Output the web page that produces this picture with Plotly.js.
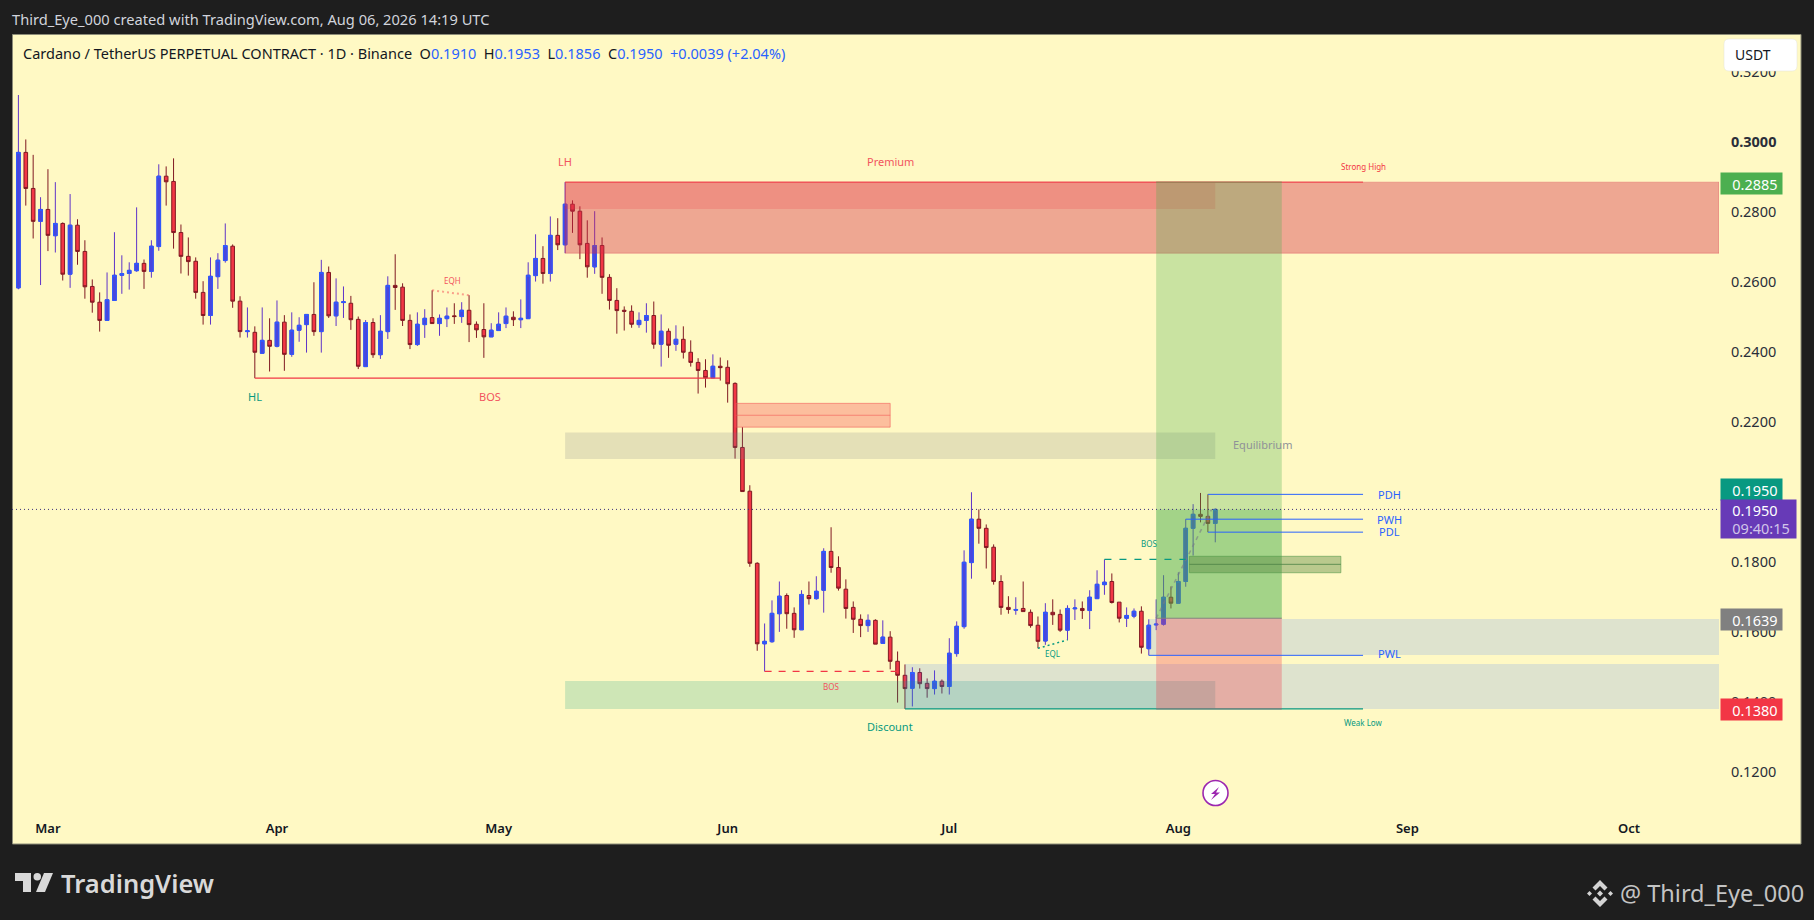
<!DOCTYPE html>
<html>
<head>
<meta charset="utf-8">
<script src="https://cdn.plot.ly/plotly-3.0.1.min.js"></script>
<style>html,body{margin:0;padding:0;background:#1e1e1e;overflow:hidden}#chart{width:1814px;height:920px}</style>
</head>
<body>
<div id="chart"></div>
<script>
var firstCandle = '2026-02-25';
var openPrices = [
.2583,.2970,.2867,.2773,.2807,.2732,.2767,.2622,.2762,.2687,
.2587,.2542,.2490,.2547,.2619,.2624,.2632,.2653,.2630,.2701,
.2902,.2887,.2741,.2673,.2659,.2570,.2504,.2615,.2661,.2702,
.2545,.2458,.2456,.2396,.2433,.2416,.2485,.2393,.2462,.2478,
.2507,.2458,.2627,.2503,.2541,.2539,.2493,.2358,.2484,.2392,
.2458,.2590,.2585,.2490,.2421,.2478,.2498,.2481,.2495,.2503,
.2501,.2519,.2479,.2464,.2443,.2461,.2481,.2499,.2492,.2495,
.2618,.2667,.2624,.2733,.2706,.2822,.2802,.2710,.2643,.2704,
.2613,.2547,.2519,.2516,.2478,.2490,.2504,.2422,.2459,.2422,
.2436,.2399,.2370,.2347,.2326,.2359,.2356,.2310,.2127,.2002,
.1796,.1566,.1572,.1652,.1704,.1653,.1606,.1704,.1695,.1719,
.1830,.1784,.1722,.1670,.1636,.1618,.1633,.1567,.1585,.1516,
.1476,.1439,.1484,.1453,.1438,.1459,.1444,.1538,.1615,.1798,
.1922,.1896,.1842,.1744,.1670,.1662,.1667,.1656,.1619,.1574,
.1656,.1650,.1605,.1666,.1667,.1661,.1695,.1735,.1744,.1685,
.1639,.1645,.1659,.1552,.1620,.1622,.1699,.1682,.1744,.1896,
.1936,.1930,.1910];
var highPrices = [
.3134,.3007,.2963,.2842,.2922,.2885,.2770,.2851,.2779,.2719,
.2607,.2570,.2627,.2742,.2676,.2656,.2813,.2664,.2719,.2936,
.2930,.2953,.2764,.2727,.2670,.2602,.2670,.2682,.2767,.2707,
.2559,.2527,.2473,.2527,.2496,.2547,.2505,.2513,.2499,.2507,
.2599,.2663,.2644,.2610,.2587,.2560,.2501,.2491,.2496,.2505,
.2616,.2679,.2596,.2507,.2513,.2522,.2576,.2507,.2527,.2539,
.2542,.2562,.2487,.2539,.2482,.2513,.2527,.2516,.2550,.2656,
.2736,.2702,.2787,.2782,.2885,.2833,.2816,.2776,.2802,.2727,
.2622,.2582,.2530,.2533,.2513,.2539,.2544,.2507,.2467,.2476,
.2473,.2433,.2382,.2379,.2393,.2384,.2376,.2313,.2185,.2019,
.1799,.1624,.1690,.1744,.1710,.1670,.1719,.1744,.1759,.1839,
.1899,.1816,.1750,.1687,.1650,.1650,.1636,.1633,.1602,.1544,
.1507,.1499,.1496,.1467,.1490,.1464,.1582,.1630,.1833,.1999,
.1950,.1907,.1850,.1762,.1702,.1699,.1744,.1664,.1644,.1682,
.1693,.1664,.1676,.1693,.1687,.1719,.1776,.1807,.1767,.1685,
.1670,.1667,.1673,.1636,.1693,.1762,.1730,.1770,.1922,.1965,
.1997,.1993,.1953];
var lowPrices = [
.2579,.2818,.2724,.2591,.2688,.2684,.2604,.2583,.2649,.2552,
.2512,.2458,.2490,.2547,.2566,.2578,.2629,.2580,.2612,.2689,
.2818,.2695,.2624,.2618,.2552,.2478,.2478,.2580,.2655,.2526,
.2441,.2441,.2325,.2396,.2344,.2413,.2346,.2386,.2429,.2398,
.2446,.2398,.2497,.2474,.2497,.2463,.2351,.2358,.2383,.2380,
.2437,.2520,.2474,.2408,.2417,.2440,.2481,.2446,.2471,.2480,
.2483,.2428,.2440,.2383,.2443,.2461,.2468,.2474,.2468,.2495,
.2601,.2595,.2601,.2691,.2682,.2740,.2665,.2612,.2623,.2566,
.2521,.2452,.2461,.2469,.2469,.2455,.2409,.2358,.2383,.2403,
.2381,.2358,.2281,.2298,.2326,.2318,.2255,.2095,.2001,.1786,
.1546,.1487,.1569,.1600,.1609,.1583,.1606,.1678,.1692,.1655,
.1769,.1718,.1638,.1597,.1585,.1600,.1565,.1567,.1493,.1398,
.1380,.1387,.1438,.1412,.1421,.1424,.1421,.1529,.1609,.1752,
.1852,.1781,.1735,.1649,.1652,.1649,.1658,.1612,.1553,.1563,
.1620,.1600,.1577,.1634,.1637,.1608,.1695,.1706,.1681,.1627,
.1614,.1639,.1538,.1533,.1605,.1618,.1667,.1682,.1729,.1818,
.1913,.1885,.1856];
var closePrices = [
.2970,.2867,.2773,.2807,.2733,.2767,.2622,.2762,.2687,.2586,
.2542,.2490,.2549,.2619,.2624,.2633,.2653,.2630,.2702,.2902,
.2886,.2741,.2673,.2658,.2570,.2504,.2616,.2662,.2704,.2545,
.2458,.2460,.2399,.2433,.2416,.2485,.2393,.2462,.2476,.2507,
.2458,.2627,.2503,.2542,.2543,.2492,.2359,.2484,.2392,.2459,
.2590,.2584,.2490,.2421,.2479,.2496,.2481,.2496,.2502,.2501,
.2519,.2478,.2463,.2443,.2462,.2479,.2502,.2492,.2496,.2619,
.2667,.2624,.2733,.2706,.2822,.2802,.2706,.2643,.2704,.2613,
.2547,.2518,.2516,.2479,.2490,.2504,.2422,.2459,.2419,.2436,
.2399,.2370,.2347,.2326,.2359,.2355,.2309,.2127,.2001,.1796,
.1566,.1573,.1653,.1702,.1652,.1606,.1707,.1695,.1716,.1830,
.1784,.1725,.1667,.1636,.1618,.1633,.1565,.1585,.1516,.1476,
.1438,.1484,.1452,.1438,.1459,.1444,.1539,.1616,.1799,.1922,
.1896,.1841,.1744,.1670,.1664,.1664,.1658,.1618,.1573,.1656,
.1649,.1605,.1667,.1668,.1661,.1699,.1736,.1742,.1684,.1639,
.1647,.1659,.1556,.1619,.1622,.1699,.1682,.1744,.1896,.1936,
.1930,.1910,.1950];

var priceTicks = [0.12,0.14,0.16,0.18,0.20,0.22,0.24,0.26,0.28,0.30,0.32];
var priceTickLabels = ['0.1200','0.1400','0.1600','0.1800','','0.2200','0.2400','0.2600','0.2800','<b>0.3000</b>','0.3200'];
var monthTicks = ['2026-03-01','2026-04-01','2026-05-01','2026-06-01','2026-07-01','2026-08-01','2026-09-01','2026-10-01'];
var monthLabels = ['Mar','Apr','May','Jun','Jul','Aug','Sep','Oct'];

var dates = openPrices.map(function(_, i){
  return new Date(Date.UTC(2026,1,25+i)).toISOString().slice(0,10);
});

var FONT = '"Noto Sans", sans-serif';
var UP_FILL='#4a46dc', UP_BORDER='#2d5cff', UP_WICK='#5f34c8', DN_FILL='#f23645', DN_BORDER='#801922';
var RED='#f23645', TEAL='#089981', BLUE='#2962ff';

var upIdx = [];
openPrices.forEach(function(o,i){ if(closePrices[i]>=o) upIdx.push(i); });
function pick(a){ return upIdx.map(function(i){return a[i];}); }

var traces = [
  {type:'candlestick', x:dates, open:openPrices, high:highPrices, low:lowPrices, close:closePrices,
   increasing:{line:{color:UP_WICK,width:1},fillcolor:UP_FILL},
   decreasing:{line:{color:DN_BORDER,width:1},fillcolor:DN_FILL},
   hoverinfo:'skip', showlegend:false},
  {type:'candlestick', x:pick(dates), open:pick(openPrices), high:pick(closePrices), low:pick(openPrices), close:pick(closePrices),
   increasing:{line:{color:UP_BORDER,width:1},fillcolor:UP_FILL},
   hoverinfo:'skip', showlegend:false}
];

var L=12, T=34, W=1707, H=778;
function px(x){return (x-L)/W;}
function py(y){return 1-(y-T)/H;}
function pt(x,y){return px(x)+','+py(y);}

function zone(x0,x1,y0,y1,fill,line){
  return {type:'rect',xref:'x',yref:'y',x0:x0,x1:x1,y0:y0,y1:y1,fillcolor:fill,line:line||{width:0}};
}
function seg(x0,x1,y0,y1,color,width,dash){
  return {type:'line',xref:'x',yref:'y',x0:x0,x1:x1,y0:y0,y1:y1,line:{color:color,width:width,dash:dash||'solid'}};
}
function paperRect(x0,y0,x1,y1,fill,line,layer){
  return {type:'rect',xref:'paper',yref:'paper',x0:px(x0),x1:px(x1),y0:py(y0),y1:py(y1),fillcolor:fill,line:line||{width:0},layer:layer||'above'};
}
function paperPath(d,fill,line){
  return {type:'path',xref:'paper',yref:'paper',path:d,fillcolor:fill,line:line||{width:0},layer:'above'};
}
function rrect(x0,y0,x1,y1,r){
  return 'M'+pt(x0+r,y0)+' L'+pt(x1-r,y0)+' Q'+pt(x1,y0)+' '+pt(x1,y0+r)+' L'+pt(x1,y1-r)+' Q'+pt(x1,y1)+' '+pt(x1-r,y1)+
         ' L'+pt(x0+r,y1)+' Q'+pt(x0,y1)+' '+pt(x0,y1-r)+' L'+pt(x0,y0+r)+' Q'+pt(x0,y0)+' '+pt(x0+r,y0)+'Z';
}
function poly(points){
  return 'M'+points.map(function(p){return pt(p[0],p[1]);}).join(' L')+'Z';
}

var END='2026-10-13T04:20:00', ZONE_L='2026-05-10', ZONE_R='2026-08-06', BOX_L='2026-07-29', BOX_R='2026-08-15', LINE_R='2026-08-26';
var borderLine={color:'#8c8c78',width:1};
var shapes = [
  paperRect(12.5,34.5,1801,844,'#fff9c4',borderLine,'below'),

  // premium
  zone(ZONE_L,END,0.2682,0.2885,'rgba(212,44,73,0.40)',{color:'rgba(212,44,73,0.30)',width:1}),
  zone(ZONE_L,ZONE_R,0.2808,0.2885,'rgba(242,54,69,0.20)'),
  seg(ZONE_L,LINE_R,0.2885,0.2885,RED,1),

  // equilibrium
  zone(ZONE_L,ZONE_R,0.2094,0.2170,'rgba(120,123,134,0.20)'),

  // discount
  zone(ZONE_L,ZONE_R,0.1380,0.1460,'rgba(8,153,129,0.20)'),
  zone('2026-06-25',END,0.1380,0.1508,'rgba(60,120,255,0.17)'),
  zone('2026-07-28',END,0.1534,0.1637,'rgba(60,120,255,0.17)'),

  // position tool
  zone(BOX_L,BOX_R,0.1639,0.2885,'rgba(76,175,80,0.30)'),
  zone(BOX_L,BOX_R,0.1639,0.1950,'rgba(76,175,80,0.30)'),
  zone(BOX_L,BOX_R,0.1380,0.1639,'rgba(242,54,69,0.30)'),
  seg(BOX_L,BOX_R,0.1639,0.1639,'#808080',1.2),
  seg(BOX_L,BOX_R,0.2885,0.2885,'#8a8a58',1),
  seg(BOX_L,'2026-08-05T12:00:00',0.1639,0.1950,'rgba(120,123,134,0.6)',1.6,'4px,4px'),

  // FVG boxes
  zone('2026-06-02','2026-06-23',0.2185,0.2253,'rgba(246,80,87,0.35)',{color:'rgba(242,80,80,0.5)',width:1}),
  seg('2026-06-02','2026-06-23',0.2219,0.2219,'rgba(242,80,80,0.55)',1),
  zone('2026-08-02T12:00:00','2026-08-23',0.1769,0.1816,'rgba(80,130,60,0.40)',{color:'rgba(76,150,70,0.55)',width:1}),
  seg('2026-08-02T12:00:00','2026-08-23',0.1793,0.1793,'rgba(76,130,70,0.8)',1),

  // structure lines
  seg('2026-03-29','2026-05-31',0.2325,0.2325,RED,1.2),
  seg('2026-06-06','2026-06-24',0.1487,0.1487,RED,1.2,'7px,7px'),
  seg('2026-04-22','2026-04-27',0.2576,0.2562,'rgba(242,54,69,0.45)',2,'2px,3px'),
  seg('2026-07-13','2026-07-17',0.1553,0.1577,TEAL,1.5,'2px,3px'),
  seg('2026-07-22','2026-08-02',0.1807,0.1807,TEAL,1.2,'7px,8px'),
  seg('2026-06-25',LINE_R,0.1380,0.1380,TEAL,1.3),
  seg(BOX_L,BOX_R,0.1380,0.1380,'#808080',1.2),
  seg('2026-08-05',LINE_R,0.1993,0.1993,BLUE,1),
  seg('2026-08-02',LINE_R,0.1922,0.1922,BLUE,1),
  seg('2026-08-05',LINE_R,0.1885,0.1885,BLUE,1),
  seg('2026-07-28',LINE_R,0.1533,0.1533,BLUE,1),

  // last price line
  seg('2026-02-24T03:13:00',END,0.1950,0.1950,'#3a2f7a',1,'1px,3px'),

  // USDT box
  paperPath(rrect(1724,39,1797,71,5),'#ffffff',{color:'#e2e2d8',width:0.5}),

  // lightning badge
  {type:'circle',xref:'paper',yref:'paper',x0:px(1203),x1:px(1228),y0:py(780.5),y1:py(805.5),fillcolor:'#ffffff',line:{color:'#9c27b0',width:1.6},layer:'above'},
  paperPath(poly([[1219,787],[1211,794],[1215,794],[1211,800],[1220,792.5],[1216,792.5]]),'#9c27b0'),

  // TradingView logo
  paperPath(poly([[15,873],[31,873],[31,892],[23,892],[23,881],[15,881]]),'#d9d9d9'),
  {type:'circle',xref:'paper',yref:'paper',x0:px(33.5),x1:px(41),y0:py(873),y1:py(880.5),fillcolor:'#d9d9d9',line:{width:0},layer:'above'},
  paperPath(poly([[44,873],[53,873],[45,892],[36,892]]),'#d9d9d9'),

  // exchange mark
  paperPath(poly([[1600,880],[1607.5,887.5],[1604.5,890.5],[1600,886],[1595.5,890.5],[1592.5,887.5]]),'#d4d4d4'),
  paperPath(poly([[1600,907],[1607.5,899.5],[1604.5,896.5],[1600,901],[1595.5,896.5],[1592.5,899.5]]),'#d4d4d4'),
  paperPath(poly([[1600,890.5],[1603,893.5],[1600,896.5],[1597,893.5]]),'#d4d4d4'),
  paperPath(poly([[1589.5,891],[1592,893.5],[1589.5,896],[1587,893.5]]),'#d4d4d4'),
  paperPath(poly([[1610.5,891],[1613,893.5],[1610.5,896],[1608,893.5]]),'#d4d4d4')
];

function label(x,y,text,color,size){
  return {xref:'x',yref:'y',x:x,y:y,text:text,showarrow:false,xanchor:'center',yanchor:'middle',
          font:{family:FONT,size:size,color:color}};
}
function note(x,y,text,color,size,extra){
  var a={xref:'paper',yref:'paper',x:px(x),y:py(y),text:text,showarrow:false,xanchor:'left',yanchor:'middle',
         font:{family:FONT,size:size,color:color}};
  for(var k in extra||{}) a[k]=extra[k];
  return a;
}
function tag(y0,y1,w,text,bg){
  return {xref:'paper',yref:'paper',x:px(1720),y:py(y0),xanchor:'left',yanchor:'top',width:w,height:y1-y0,
          text:text,showarrow:false,bgcolor:bg,align:'left',borderpad:0,
          font:{family:FONT,size:14.5,color:'#ffffff'}};
}
function val(s){return '<span style="color:#2962ff">'+s+'</span>';}

var annotations = [
  note(10,19,'Third_Eye_000 created with TradingView.com, Aug 06, 2026 14:19 UTC','#d1d4dc',14.65),
  note(21,53,'Cardano / TetherUS PERPETUAL CONTRACT · 1D · Binance  O'+val('0.1910')+'  H'+val('0.1953')+'  L'+val('0.1856')+'  C'+val('0.1950')+'  '+val('+0.0039 (+2.04%)'),'#131722',14.5),
  note(1733,55,'USDT','#131722',14),

  label('2026-05-10',0.2943,'LH','#f2545f',11),
  label('2026-06-23',0.2943,'Premium','#f2545f',11),
  label(LINE_R,0.2931,'Strong High','#f23645',8),
  label('2026-03-29',0.2272,'HL',TEAL,11),
  label('2026-04-29T19:00:00',0.2272,'BOS','#f2545f',11),
  label('2026-04-24T19:00:00',0.2605,'EQH','#f2545f',8),
  label('2026-08-12T08:00:00',0.2136,'Equilibrium','#8f9198',11),
  label('2026-06-23',0.1329,'Discount',TEAL,11),
  label('2026-06-15',0.1445,'BOS','#f2545f',8),
  label('2026-07-15',0.1537,'EQL',TEAL,8),
  label('2026-07-28',0.1854,'BOS',TEAL,8),
  label(LINE_R,0.1341,'Weak Low',TEAL,8),
  label('2026-08-29T14:00:00',0.1994,'PDH',BLUE,11),
  label('2026-08-29T14:00:00',0.1920,'PWH',BLUE,11),
  label('2026-08-29T14:00:00',0.1886,'PDL',BLUE,11),
  label('2026-08-29T14:00:00',0.1537,'PWL',BLUE,11),

  tag(172,193,61,'   0.2885','#4caf50'),
  tag(478,499,61,'   0.1950',TEAL),
  tag(499,537,75,'   0.1950<br>   <span style="color:#d1c4e9">09:40:15</span>','#673ab7'),
  tag(608,629,61,'   0.1639','#808080'),
  tag(698,719,61,'   0.1380',RED),

  note(59,883,'TradingView','#d9d9d9',25.5,{font:{family:FONT,size:25.5,color:'#d9d9d9',weight:600}}),
  note(1618,893,'@ Third_Eye_000','#c4c4c4',23.5)
];

var layout = {
  width:1814, height:920,
  margin:{l:L,r:1814-L-W,t:T,b:920-T-H,pad:0},
  paper_bgcolor:'#1e1e1e', plot_bgcolor:'rgba(0,0,0,0)',
  showlegend:false,
  xaxis:{type:'date',range:['2026-02-24T03:13:00',END],rangeslider:{visible:false},
         tickmode:'array',tickvals:monthTicks,ticktext:monthLabels,
         showgrid:false,zeroline:false,showline:false,ticks:'outside',ticklen:4,tickcolor:'rgba(0,0,0,0)',
         tickfont:{family:FONT,size:13,color:'#131722',weight:600},automargin:false,fixedrange:true},
  yaxis:{type:'linear',side:'right',range:[0.10854,0.33083],
         tickmode:'array',tickvals:priceTicks,ticktext:priceTickLabels,
         showgrid:false,zeroline:false,showline:false,ticks:'outside',ticklen:8,tickcolor:'rgba(0,0,0,0)',
         tickfont:{family:FONT,size:14.5,color:'#2a2e39'},automargin:false,fixedrange:true},
  shapes:shapes,
  annotations:annotations,
  font:{family:FONT}
};
Plotly.newPlot('chart',traces,layout,{displayModeBar:false,staticPlot:true});
</script>
</body>
</html>
